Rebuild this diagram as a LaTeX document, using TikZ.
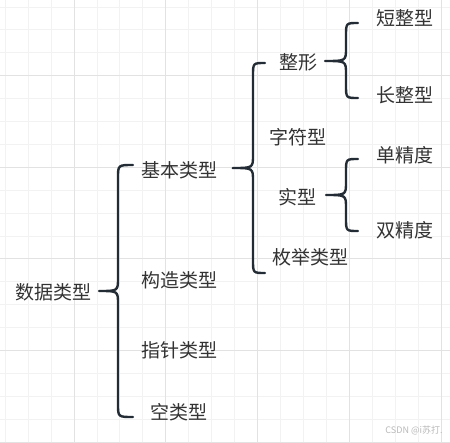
\documentclass[tikz,border=0pt]{standalone}
\usepackage{fontspec}
\setmainfont{Noto Sans CJK SC}
\definecolor{txt}{RGB}{51,51,51}
\definecolor{bracecol}{RGB}{35,44,52}
\definecolor{gridminor}{RGB}{242,242,242}
\definecolor{gridmajor}{RGB}{226,226,226}
\tikzset{
  lbl/.style={inner sep=0pt, text=txt, font=\fontsize{19}{19}\selectfont},
  brace/.style={draw=bracecol, line width=2.4pt, line cap=round, line join=round},
  mark text/.style={inner sep=0pt, text=gray!55, font=\fontsize{9}{9}\selectfont}
}
\begin{document}
\begin{tikzpicture}[x=1pt,y=-1pt]
    \useasboundingbox[fill=white] (0,0) rectangle (450,442);
    % background grid
    \foreach \k in {-3,...,16}
    \draw[gridminor,line width=0.9pt] (74+22.96*\k,0) -- (74+22.96*\k,442);
    \foreach \k in {-3,...,16}
    \draw[gridminor,line width=0.9pt] (0,75.7+22.9*\k) -- (450,75.7+22.9*\k);
    \foreach \k in {0,...,4}
    \draw[gridmajor,line width=1pt] (74+91.85*\k,0) -- (74+91.85*\k,442);
    \foreach \k in {0,...,4}
    \draw[gridmajor,line width=1pt] (0,75.7+91.6*\k) -- (450,75.7+91.6*\k);
    % labels
    \foreach \n/\x/\y/\t in {shuju/53.5/292/数据类型, jiben/179.5/170/基本类型,
        gouzao/179.5/280/构造类型, zhizhen/179.5/350/指针类型, kong/179/412/空类型,
        zheng/298/62/整形, zifu/297.5/137/字符型, shi/297.5/197/实型,
        meiju/310/257/枚举类型, duan/405/18/短整型, chang/405/95/长整型,
        dan/405/155/单精度, shuang/405/230/双精度}
    \node[lbl] (\n) at (\x,\y) {\t};
    % braces: tip x / tip y / stem x / arm x / top / bottom
    \foreach \tx/\ty/\sx/\ex/\ya/\yb in {99/291/118/133/165/417,
        232.7/168/253/265/63/273, 325/61/346/358/23/98, 326/195/346/358/159/231}
    \draw[brace] (\ex,\ya) .. controls (\sx,\ya) .. (\sx,\ya+13)
        -- (\sx,\ty-13) .. controls (\sx,\ty) .. (\tx,\ty)
        .. controls (\sx,\ty) .. (\sx,\ty+13)
        -- (\sx,\yb-13) .. controls (\sx,\yb) .. (\ex,\yb);
    \node[mark text] (csdn) at (414,430) {CSDN @i苏打.};
\end{tikzpicture}
\end{document}
